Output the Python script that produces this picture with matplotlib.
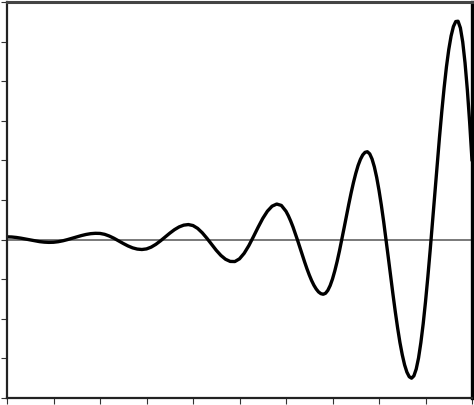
import numpy as np
import matplotlib.pyplot as plt

# Werte: bis 5.9 in Schritten von 0.1, danach 0.05
x_vals = np.concatenate([np.arange(0, 5.95, 0.1), np.arange(6.0, 10.001, 0.05)])
y_vals = [
    # 0.0 .. 5.9
    0.070, 0.066, 0.054, 0.036, 0.014, -0.010, -0.032, -0.051, -0.064, -0.070,
    -0.067, -0.053, -0.030, 0.000, 0.034, 0.070, 0.102, 0.130, 0.150, 0.159,
    0.156, 0.133, 0.090, 0.034, -0.032, -0.098, -0.159, -0.208, -0.239, -0.250,
    -0.235, -0.190, -0.120, -0.032, 0.065, 0.162, 0.250, 0.320, 0.365, 0.380,
    0.355, 0.283, 0.171, 0.032, -0.121, -0.270, -0.400, -0.497, -0.551, -0.554,
    -0.485, -0.346, -0.153, 0.075, 0.312, 0.535, 0.718, 0.844, 0.898, 0.863,
    # 6.00 .. 10.00
    0.715, 0.603, 0.470, 0.320, 0.153, -0.022, -0.204, -0.386, -0.564, -0.735,
    -0.892, -1.033, -1.153, -1.249, -1.322, -1.365, -1.380, -1.355, -1.281, -1.159,
    -0.993, -0.786, -0.548, -0.282, 0.004, 0.300, 0.600, 0.895, 1.178, 1.439,
    1.671, 1.871, 2.026, 2.139, 2.204, 2.219, 2.166, 2.037, 1.837, 1.571,
    1.245, 0.870, 0.455, 0.009, -0.454, -0.920, -1.381, -1.821, -2.230, -2.599,
    -2.908, -3.163, -3.348, -3.463, -3.500, -3.441, -3.270, -2.990, -2.602, -2.127,
    -1.568, -0.945, -0.272, 0.437, 1.159, 1.877, 2.577, 3.232, 3.832, 4.361,
    4.799, 5.142, 5.381, 5.507, 5.515, 5.346, 4.993, 4.463, 3.778, 2.951,
    1.998,
]
x_ticks = list(range(0, 11))
y_ticks = list(range(-4, 7))

fig = plt.figure(figsize=(4.74, 4.05), dpi=100)
ax = fig.add_axes([0.0148, 0.0173, 0.981, 0.9777])

ax.axhline(0, color="#555555", lw=1.1, zorder=1)
ax.plot(x_vals, y_vals, color="black", lw=2.4, solid_joinstyle="round",
        solid_capstyle="round", zorder=2)

ax.set_xlim(0, 10)
ax.set_ylim(-4, 6)
ax.set_xticks(x_ticks)
ax.set_yticks(y_ticks)
ax.set_xticklabels([])
ax.set_yticklabels([])
ax.tick_params(direction="out", length=4, width=0.8, colors="#333333")

ax.spines["left"].set_linewidth(1.6)
ax.spines["left"].set_color("#222222")
ax.spines["bottom"].set_linewidth(1.6)
ax.spines["bottom"].set_color("#222222")
ax.spines["top"].set_linewidth(2.2)
ax.spines["top"].set_color("#444444")
ax.spines["right"].set_linewidth(2.4)
ax.spines["right"].set_color("black")

fig.savefig("out.png", dpi=100)
